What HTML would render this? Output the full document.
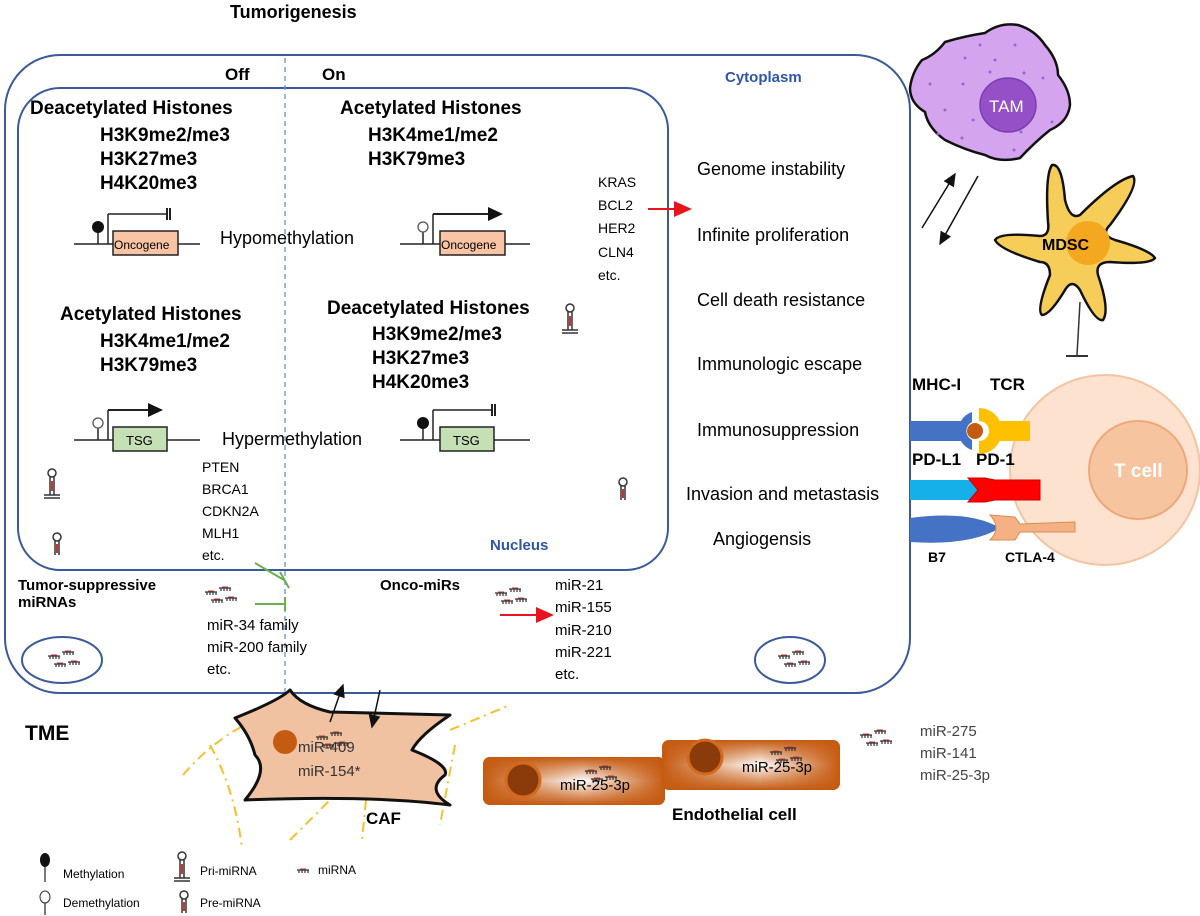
<!DOCTYPE html>
<html><head><meta charset="utf-8"><style>
body{margin:0;background:#fff}
svg{display:block;font-family:"Liberation Sans",Arial,sans-serif}
.b{font-weight:bold}
</style></head><body>
<svg width="1200" height="916" viewBox="0 0 1200 916" xmlns="http://www.w3.org/2000/svg">
<defs>
<marker id="ak" markerWidth="10" markerHeight="10" refX="8" refY="5" orient="auto"><path d="M0,1 L9,5 L0,9 z" fill="#111"/></marker>
<marker id="ar" markerWidth="10" markerHeight="10" refX="8" refY="5" orient="auto"><path d="M0,1 L9,5 L0,9 z" fill="#e8141c"/></marker>
<g id="mi"><path d="M0,0 h12 M2,0 v3 M5,0 v3 M8,0 v3 M11,0 v3" stroke="#333" stroke-width="1.2"/><path d="M3,-1 h6" stroke="#c33" stroke-width="1"/></g>
<g id="mis"><use href="#mi" x="0" y="0"/><use href="#mi" x="14" y="-4"/><use href="#mi" x="6" y="8"/><use href="#mi" x="20" y="6"/></g>
<g id="pri"><circle cx="0" cy="-14" r="4" fill="none" stroke="#333" stroke-width="1.5"/><path d="M-2,-10 v18 M2,-10 v18 M-8,8 h16 M-8,11 h16" stroke="#333" stroke-width="1.5" fill="none"/><path d="M0,-6 v10" stroke="#c33" stroke-width="2"/></g>
<g id="pre"><circle cx="0" cy="-10" r="4" fill="none" stroke="#333" stroke-width="1.5"/><path d="M-2,-6 v14 M2,-6 v14" stroke="#333" stroke-width="1.5"/><path d="M0,-3 v9" stroke="#c33" stroke-width="2"/></g>
</defs>

<text x="230" y="18" class="b" font-size="18">Tumorigenesis</text>
<rect x="5" y="55" width="905" height="638" rx="55" fill="none" stroke="#3a5a9a" stroke-width="2"/>
<rect x="18" y="88" width="650" height="482" rx="42" fill="none" stroke="#3a5a9a" stroke-width="2"/>
<line x1="285" y1="58" x2="285" y2="692" stroke="#6a8fd0" stroke-width="1.3" stroke-dasharray="5,4"/>
<text x="225" y="80" class="b" font-size="17">Off</text>
<text x="322" y="80" class="b" font-size="17">On</text>
<text x="725" y="82" class="b" font-size="15" fill="#2f56a8">Cytoplasm</text>
<text x="490" y="550" class="b" font-size="15" fill="#2f56a8">Nucleus</text>

<g class="b" font-size="19">
<text x="30" y="114">Deacetylated Histones</text>
<text x="100" y="141">H3K9me2/me3</text>
<text x="100" y="165">H3K27me3</text>
<text x="100" y="189">H4K20me3</text>
<text x="340" y="114">Acetylated Histones</text>
<text x="368" y="141">H3K4me1/me2</text>
<text x="368" y="165">H3K79me3</text>
<text x="60" y="320">Acetylated Histones</text>
<text x="100" y="347">H3K4me1/me2</text>
<text x="100" y="371">H3K79me3</text>
<text x="327" y="314">Deacetylated Histones</text>
<text x="372" y="340">H3K9me2/me3</text>
<text x="372" y="364">H3K27me3</text>
<text x="372" y="388">H4K20me3</text>
</g>

<g stroke="#222" stroke-width="1.5" fill="none">
<line x1="74" y1="244" x2="200" y2="244"/>
<line x1="98" y1="244" x2="98" y2="228"/><line x1="108" y1="244" x2="108" y2="214"/><line x1="108" y1="214" x2="168" y2="214"/><line x1="167" y1="208" x2="167" y2="220" stroke-width="2"/><line x1="170" y1="208" x2="170" y2="220" stroke-width="2"/>
<line x1="400" y1="244" x2="530" y2="244"/>
<line x1="423" y1="244" x2="423" y2="228"/><line x1="433" y1="244" x2="433" y2="214"/><line x1="433" y1="214" x2="490" y2="214" stroke-width="2"/>
<line x1="74" y1="440" x2="200" y2="440"/>
<line x1="98" y1="440" x2="98" y2="424"/><line x1="108" y1="440" x2="108" y2="410"/><line x1="108" y1="410" x2="150" y2="410" stroke-width="2"/>
<line x1="400" y1="440" x2="530" y2="440"/>
<line x1="423" y1="440" x2="423" y2="424"/><line x1="433" y1="440" x2="433" y2="410"/><line x1="433" y1="410" x2="493" y2="410"/><line x1="492" y1="404" x2="492" y2="416" stroke-width="2"/><line x1="495" y1="404" x2="495" y2="416" stroke-width="2"/>
</g>
<circle cx="98" cy="227" r="6" fill="#111"/>
<circle cx="423" cy="227" r="5" fill="#fff" stroke="#555" stroke-width="1.3"/>
<circle cx="98" cy="423" r="5" fill="#fff" stroke="#555" stroke-width="1.3"/>
<circle cx="423" cy="423" r="6" fill="#111"/>
<path d="M488,207 L503,214 L488,221 z" fill="#111"/>
<path d="M148,403 L163,410 L148,417 z" fill="#111"/>
<rect x="113" y="231" width="65" height="24" fill="#f8c4a4" stroke="#222" stroke-width="1.5"/>
<text x="114" y="249" font-size="12">Oncogene</text>
<rect x="440" y="231" width="65" height="24" fill="#f8c4a4" stroke="#222" stroke-width="1.5"/>
<text x="441" y="249" font-size="12">Oncogene</text>
<rect x="113" y="427" width="54" height="24" fill="#c5e0b4" stroke="#222" stroke-width="1.5"/>
<text x="126" y="445" font-size="13">TSG</text>
<rect x="440" y="427" width="54" height="24" fill="#c5e0b4" stroke="#222" stroke-width="1.5"/>
<text x="453" y="445" font-size="13">TSG</text>
<text x="220" y="244" font-size="18">Hypomethylation</text>
<text x="222" y="445" font-size="18">Hypermethylation</text>

<g font-size="14">
<text x="598" y="187">KRAS</text><text x="598" y="210">BCL2</text><text x="598" y="233">HER2</text><text x="598" y="257">CLN4</text><text x="598" y="280">etc.</text>
<text x="202" y="472">PTEN</text><text x="202" y="494">BRCA1</text><text x="202" y="516">CDKN2A</text><text x="202" y="538">MLH1</text><text x="202" y="560">etc.</text>
</g>
<line x1="648" y1="209" x2="690" y2="209" stroke="#e8141c" stroke-width="2" marker-end="url(#ar)"/>
<use href="#pri" x="52" y="487"/><use href="#pre" x="57" y="547"/>
<use href="#pri" x="570" y="322"/><use href="#pre" x="623" y="492"/>

<g font-size="18">
<text x="697" y="175">Genome instability</text>
<text x="697" y="241">Infinite proliferation</text>
<text x="697" y="306">Cell death resistance</text>
<text x="697" y="370">Immunologic escape</text>
<text x="697" y="436">Immunosuppression</text>
<text x="686" y="500">Invasion and metastasis</text>
<text x="713" y="545">Angiogensis</text>
</g>

<text x="18" y="590" class="b" font-size="15">Tumor-suppressive</text>
<text x="18" y="607" class="b" font-size="15">miRNAs</text>
<use href="#mis" x="205" y="592"/>
<g stroke="#6ab04c" stroke-width="2"><line x1="255" y1="563" x2="284" y2="580"/><line x1="280" y1="572" x2="289" y2="588"/><line x1="255" y1="604" x2="285" y2="604"/><line x1="285" y1="597" x2="285" y2="611"/></g>
<g font-size="15"><text x="207" y="630">miR-34 family</text><text x="207" y="652">miR-200 family</text><text x="207" y="674">etc.</text></g>
<ellipse cx="62" cy="660" rx="40" ry="23" fill="none" stroke="#3a5a9a" stroke-width="2"/>
<use href="#mis" x="48" y="656"/>
<text x="380" y="590" class="b" font-size="15">Onco-miRs</text>
<use href="#mis" x="495" y="593"/>
<line x1="500" y1="615" x2="552" y2="615" stroke="#e8141c" stroke-width="2" marker-end="url(#ar)"/>
<g font-size="15"><text x="555" y="590">miR-21</text><text x="555" y="612">miR-155</text><text x="555" y="635">miR-210</text><text x="555" y="657">miR-221</text><text x="555" y="679">etc.</text></g>
<ellipse cx="790" cy="660" rx="35" ry="23" fill="none" stroke="#3a5a9a" stroke-width="2"/>
<use href="#mis" x="778" y="656"/>

<!-- TAM -->
<path d="M922,60 Q935,55 945,42 Q965,36 985,33 Q1000,22 1018,25 Q1035,30 1045,45 Q1058,60 1058,75 Q1070,90 1070,105 Q1068,122 1050,130 Q1035,142 1020,158 Q1000,163 985,155 Q965,150 945,140 Q928,128 925,112 Q910,103 910,88 Q912,72 922,60 z" fill="#d4a4ee" stroke="#111" stroke-width="2.5"/>
<g fill="#a060d8"><circle cx="980" cy="45" r="1.5"/><circle cx="1015" cy="45" r="1.5"/><circle cx="965" cy="58" r="1.5"/><circle cx="995" cy="60" r="1.5"/><circle cx="990" cy="72" r="1.5"/><circle cx="1024" cy="73" r="1.5"/><circle cx="1043" cy="78" r="1.5"/><circle cx="930" cy="84" r="1.5"/><circle cx="963" cy="84" r="1.5"/><circle cx="945" cy="110" r="1.5"/><circle cx="973" cy="120" r="1.5"/><circle cx="1052" cy="122" r="1.5"/><circle cx="938" cy="134" r="1.5"/><circle cx="962" cy="138" r="1.5"/><circle cx="1014" cy="150" r="1.5"/><circle cx="1021" cy="132" r="1.5"/></g>
<ellipse cx="1008" cy="105" rx="28" ry="27" fill="#9550c8" stroke="#7a3eb0" stroke-width="1.5"/>
<text x="989" y="112" font-size="17" fill="#fff">TAM</text>
<line x1="922" y1="228" x2="955" y2="174" stroke="#111" stroke-width="1.5" marker-end="url(#ak)"/>
<line x1="978" y1="176" x2="940" y2="244" stroke="#111" stroke-width="1.5" marker-end="url(#ak)"/>
<!-- MDSC -->
<path d="M1052,165 Q1062,163 1065,200 Q1070,220 1080,215 Q1115,180 1133,176 Q1140,185 1110,225 Q1100,235 1115,240 Q1150,250 1155,258 Q1150,265 1110,262 Q1095,262 1098,275 Q1110,310 1103,320 Q1095,322 1080,290 Q1072,278 1065,290 Q1050,315 1042,315 Q1036,310 1050,275 Q1050,262 1040,262 Q1000,250 995,240 Q1000,232 1040,236 Q1050,236 1048,222 Q1045,175 1052,165 z" fill="#f6cd58" stroke="#111" stroke-width="2.5" stroke-linejoin="round"/>
<circle cx="1088" cy="243" r="22" fill="#f4a820"/>
<text x="1042" y="250" class="b" font-size="16">MDSC</text>
<line x1="1080" y1="302" x2="1077" y2="355" stroke="#333" stroke-width="1.5"/><line x1="1066" y1="356" x2="1088" y2="356" stroke="#333" stroke-width="2"/>

<circle cx="1105" cy="470" r="95" fill="#fde2cf" stroke="#f3c4a2" stroke-width="2"/>
<circle cx="1138" cy="470" r="49" fill="#f7c4a0" stroke="#eda87a" stroke-width="2"/>
<text x="1114" y="477" font-size="19" fill="#fff" class="b">T cell</text>
<g class="b" font-size="17"><text x="912" y="390">MHC-I</text><text x="990" y="390">TCR</text><text x="912" y="465">PD-L1</text><text x="976" y="465">PD-1</text></g>
<rect x="910" y="421" width="55" height="20" fill="#4472c4"/>
<path d="M972,412 A20,20 0 0 0 972,450 L972,440 A10,10 0 0 1 972,422 z" fill="#4472c4"/>
<rect x="990" y="421" width="40" height="20" fill="#ffc000"/>
<path d="M979,408 A23,23 0 0 1 979,454 L979,441 A10,10 0 0 0 979,421 z" fill="#ffc000"/>
<circle cx="975" cy="431" r="8" fill="#c55a11"/>
<path d="M910,480 L970,480 L980,490 L970,500 L910,500 z" fill="#15b0ea"/>
<path d="M968,478 L985,478 L995,480 L1040,480 L1040,500 L995,500 L985,502 L968,502 L978,490 z" fill="#ff0000" stroke="#c00" stroke-width="1"/>
<path d="M910,518 Q970,510 1000,528 Q970,546 910,542 z" fill="#4472c4"/>
<path d="M990,515 L1015,517 L1020,524 L1075,522 L1075,532 L1020,532 L1015,540 L990,540 Q1002,528 990,515 z" fill="#f4b183" stroke="#e08a50" stroke-width="1"/>
<text x="928" y="562" class="b" font-size="14">B7</text>
<text x="1005" y="562" class="b" font-size="14">CTLA-4</text>

<text x="25" y="740" class="b" font-size="21">TME</text>
<g stroke="#f5c02e" stroke-width="2" stroke-dasharray="10,5,2,5" fill="none">
<path d="M183,775 Q230,720 300,705"/><path d="M210,745 Q235,790 242,848"/><path d="M290,840 Q330,800 350,780"/><path d="M366,800 L362,840"/><path d="M455,745 L440,825"/><path d="M450,730 L510,705"/>
</g>
<path d="M235,718 Q280,700 290,690 Q300,705 330,712 L450,715 Q420,735 412,750 Q450,765 445,775 Q425,790 450,805 Q370,795 245,800 Q270,770 255,755 Q250,735 235,718 z" fill="#f1c2a2" stroke="#111" stroke-width="3" stroke-linejoin="round"/>
<circle cx="285" cy="742" r="12" fill="#c55a11"/>
<line x1="330" y1="722" x2="343" y2="685" stroke="#111" stroke-width="1.5" marker-end="url(#ak)"/>
<line x1="380" y1="690" x2="372" y2="727" stroke="#111" stroke-width="1.5" marker-end="url(#ak)"/>
<use href="#mis" x="316" y="737"/>
<g font-size="15" fill="#333"><text x="298" y="752">miR-409</text><text x="298" y="776">miR-154*</text></g>
<text x="366" y="824" class="b" font-size="17">CAF</text>
<defs><linearGradient id="eg" x1="0" y1="0" x2="1" y2="0"><stop offset="0" stop-color="#c55a11"/><stop offset="0.55" stop-color="#fff"/><stop offset="1" stop-color="#c55a11"/></linearGradient>
<linearGradient id="ev" x1="0" y1="0" x2="0" y2="1"><stop offset="0" stop-color="#c55a11"/><stop offset="0.5" stop-color="#c55a11" stop-opacity="0"/><stop offset="1" stop-color="#c55a11"/></linearGradient></defs>
<rect x="483" y="757" width="182" height="48" rx="7" fill="url(#eg)"/><rect x="483" y="757" width="182" height="48" rx="7" fill="url(#ev)"/>
<circle cx="523" cy="780" r="17" fill="#8b3a0a" stroke="#d46a1e" stroke-width="3"/>
<rect x="662" y="740" width="178" height="50" rx="7" fill="url(#eg)"/><rect x="662" y="740" width="178" height="50" rx="7" fill="url(#ev)"/>
<circle cx="705" cy="757" r="17" fill="#8b3a0a" stroke="#d46a1e" stroke-width="3"/>
<use href="#mis" x="585" y="771"/><use href="#mis" x="770" y="752"/>
<g font-size="15"><text x="560" y="790">miR-25-3p</text><text x="742" y="772">miR-25-3p</text></g>
<text x="672" y="820" class="b" font-size="17">Endothelial cell</text>
<use href="#mis" x="860" y="735"/>
<g font-size="15" fill="#444"><text x="920" y="736">miR-275</text><text x="920" y="758">miR-141</text><text x="920" y="780">miR-25-3p</text></g>

<line x1="45" y1="862" x2="45" y2="882" stroke="#333" stroke-width="1.3"/><ellipse cx="45" cy="860" rx="5" ry="7" fill="#111"/>
<line x1="45" y1="900" x2="45" y2="915" stroke="#333" stroke-width="1.3"/><ellipse cx="45" cy="897" rx="5" ry="6" fill="#fff" stroke="#333"/>
<g font-size="12"><text x="63" y="878">Methylation</text><text x="63" y="907">Demethylation</text><text x="200" y="875">Pri-miRNA</text><text x="200" y="907">Pre-miRNA</text><text x="318" y="874">miRNA</text></g>
<use href="#pri" x="182" y="870"/><use href="#pre" x="184" y="905"/><use href="#mi" x="297" y="870"/>
</svg>
</body></html>
